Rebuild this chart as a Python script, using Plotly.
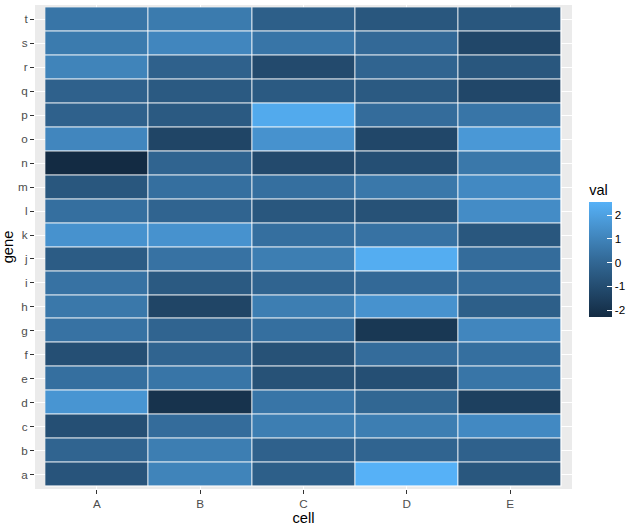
import plotly.graph_objects as go

cells = ["A", "B", "C", "D", "E"]
genes = list("abcdefghijklmnopqrst")

# values per gene (rows a..t), columns A..E
val_a = [-0.7, 1.0, -0.3, 2.55, -0.6]
val_b = [-0.1, 0.8, -0.2, -0.1, -0.2]
val_c = [-0.9, 0.2, 0.8, 0.8, 1.2]
val_d = [1.6, -2.0, 0.5, 0.0, -1.5]
val_e = [0.3, 0.5, -0.8, -0.9, 0.5]
val_f = [-0.9, -0.1, -0.8, 0.2, 0.3]
val_g = [0.4, -0.1, 0.3, -1.8, 1.1]
val_h = [0.6, -1.3, 0.8, 1.5, -0.3]
val_i = [0.4, -0.5, -0.1, 0.1, 0.2]
val_j = [-0.4, 0.4, 0.8, 2.4, 0.2]
val_k = [1.5, 1.5, 0.3, 0.4, -0.6]
val_l = [0.3, -0.1, -0.6, -0.8, 1.3]
val_m = [-0.6, 0.3, 0.3, 0.6, 1.2]
val_n = [-2.29, -0.1, -1.1, -0.9, 0.6]
val_o = [1.1, -1.3, 1.5, -1.2, 1.7]
val_p = [-0.2, -0.5, 2.3, 0.2, 0.5]
val_q = [-0.2, -0.5, -0.5, -0.5, -1.2]
val_r = [1.0, -0.2, -1.1, -0.1, -0.6]
val_s = [0.7, 1.1, 0.5, 0.1, -1.2]
val_t = [0.5, 0.7, -0.3, -0.6, -0.6]

z = [val_a, val_b, val_c, val_d, val_e, val_f, val_g, val_h, val_i, val_j,
     val_k, val_l, val_m, val_n, val_o, val_p, val_q, val_r, val_s, val_t]

colorscale = [[0, "#132B43"], [0.5, "#336A98"], [1, "#56B1F7"]]

fig = go.Figure()
fig.add_trace(go.Heatmap(
    x=cells, y=genes, z=z,
    colorscale=colorscale,
    xgap=1, ygap=1,
    colorbar=dict(
        title=dict(text="val", side="top", font=dict(size=14.5, color="#000000")),
        thickness=23, thicknessmode="pixels",
        len=136, lenmode="pixels",
        x=1.032, xanchor="left", xpad=0,
        y=0.496, yanchor="middle", ypad=0,
        outlinewidth=0,
        ticks="inside", ticklen=5, tickcolor="#FFFFFF", tickwidth=1,
        tickvals=[-2, -1, 0, 1, 2],
        ticktext=["-2", "-1", "0", "1", "2"],
        tickfont=dict(size=11.7, color="#000000"),
    ),
))

# white backing so that the tile gaps show as white borders
fig.add_shape(type="rect", xref="x", yref="y", x0=-0.5, x1=4.5, y0=-0.5, y1=19.5,
              fillcolor="#FFFFFF", line=dict(width=0), layer="between")

fig.update_layout(
    width=638, height=532,
    margin=dict(l=35, r=66, t=5, b=43, autoexpand=False),
    paper_bgcolor="#FFFFFF",
    plot_bgcolor="#EBEBEB",
    font=dict(family="Liberation Sans, Arial, sans-serif", color="#000000"),
    xaxis=dict(
        title=dict(text="cell", font=dict(size=14.7, color="#000000"), standoff=2),
        categoryorder="array", categoryarray=cells,
        range=[-0.6, 4.6], automargin=False,
        showgrid=True, gridcolor="#FFFFFF", gridwidth=1,
        ticks="outside", ticklen=4, tickcolor="#333333",
        tickfont=dict(size=11.7, color="#4D4D4D"),
        zeroline=False, showline=False,
    ),
    yaxis=dict(
        title=dict(text="gene", font=dict(size=14.7, color="#000000"), standoff=6),
        categoryorder="array", categoryarray=genes,
        range=[-0.6, 19.6], automargin=False,
        showgrid=True, gridcolor="#FFFFFF", gridwidth=1,
        ticks="outside", ticklen=4, tickcolor="#333333",
        tickfont=dict(size=11.7, color="#4D4D4D"),
        zeroline=False, showline=False,
    ),
)

fig.write_html("out.html", config={"displayModeBar": False},
               post_script="document.body.style.margin='0';")
